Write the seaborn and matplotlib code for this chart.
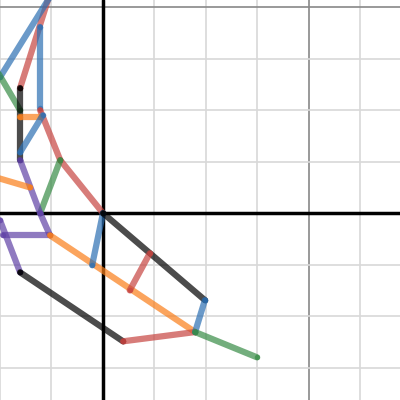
import numpy as np
import matplotlib
matplotlib.use("Agg")
import matplotlib.pyplot as plt
import seaborn as sns

sns.set_style("white")

RED = "#c74440"
BLUE = "#2d70b3"
GREEN = "#388c46"
PURPLE = "#6042a6"
ORANGE = "#fa7e19"
BLACK = "#000000"

# segments: (x0, y0, x1, y1)
seg_x0 = [-1.05, -2.0, -1.22, -1.22, -0.83, -2.05, -0.83, -1.61, -1.22, -1.17,
          -1.61, -1.22, -1.94, -2.0, -2.1, -1.03, 0.0, 0.0, -1.61, 0.39, 0.52, 1.98, 1.79]
seg_y0 = [4.2, 2.64, 3.61, 2.0, 1.03, 2.75, 1.03, 2.43, 1.86, 1.9,
          1.03, 0.0, -0.43, -0.14, 0.7, -0.43, 0.0, 0.0, -1.15, -2.49, -1.5, -1.69, -2.31]
seg_x1 = [-1.61, -1.03, -1.22, -0.83, 0.0, -1.61, -1.22, -1.61, -1.61, -1.61,
          -1.22, -1.03, -1.03, -1.61, -1.42, 1.79, -0.21, 1.98, 0.39, 1.79, 0.91, 1.79, 2.99]
seg_y1 = [2.43, 4.2, 2.04, 1.03, 0.0, 2.0, 0.0, 1.03, 1.86, 1.18,
          0.0, -0.43, -0.43, -1.15, 0.5, -2.31, -1.01, -1.69, -2.49, -2.31, -0.78, -2.31, -2.8]
seg_col = [RED, BLUE, BLUE, RED, RED, GREEN, GREEN, BLACK, ORANGE, BLUE,
           PURPLE, PURPLE, PURPLE, PURPLE, ORANGE, ORANGE, BLUE, BLACK, BLACK, RED, RED, BLUE, GREEN]

fig = plt.figure(figsize=(4, 4), dpi=100)
ax = fig.add_axes([0, 0, 1, 1])

for v in range(-2, 6):
    ax.axvline(v, color="#d8d8d8" if v != 4 else "#888888", lw=1.2, zorder=0)
for v in range(-4, 5):
    ax.axhline(v, color="#d8d8d8" if v != 4 else "#888888", lw=1.2, zorder=0)
ax.axvline(0, color="black", lw=2.5, zorder=1)
ax.axhline(0, color="black", lw=2.5, zorder=1)

for x0, y0, x1, y1, c in zip(seg_x0, seg_y0, seg_x1, seg_y1, seg_col):
    sns.lineplot(x=[x0, x1], y=[y0, y1], ax=ax, color=c, lw=4.5, alpha=0.7,
                 sort=False, estimator=None, marker="o", markersize=4,
                 markeredgewidth=0, zorder=3)

ax.set_xlim(-2, 5.77)
ax.set_ylim(-3.63, 4.14)
ax.set_xticks([])
ax.set_yticks([])
for s in ax.spines.values():
    s.set_visible(False)

fig.savefig("out.png", dpi=100)
